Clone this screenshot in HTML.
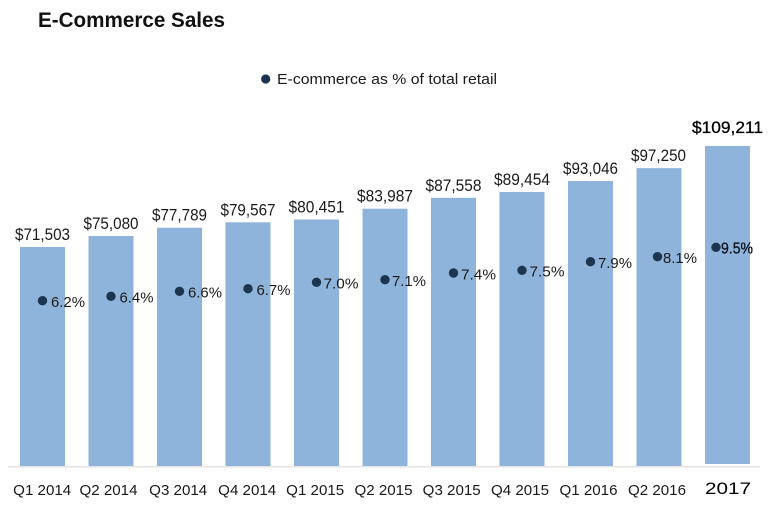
<!DOCTYPE html>
<html>
<head>
<meta charset="utf-8">
<style>
html,body{margin:0;padding:0;background:#fff;}
svg{display:block;}
text{font-family:"Liberation Sans",Arial,sans-serif;}
</style>
</head>
<body>
<svg width="780" height="516" viewBox="0 0 780 516" xmlns="http://www.w3.org/2000/svg">
<rect width="780" height="516" fill="#fff"/>
<text x="38" y="27" font-size="21" font-weight="bold" fill="#111" textLength="187" lengthAdjust="spacingAndGlyphs">E-Commerce Sales</text>
<circle cx="265.7" cy="79" r="4.6" fill="#1c3550"/>
<text x="277" y="84" font-size="14.5" fill="#1a1a1a" textLength="220" lengthAdjust="spacingAndGlyphs">E-commerce as % of total retail</text>

<line x1="8" y1="466.8" x2="760" y2="466.8" stroke="#e4e4e4" stroke-width="1.5"/>

<g fill="#8fb4db">
<rect x="20" y="247" width="45" height="219"/>
<rect x="88.5" y="236" width="45" height="230"/>
<rect x="157" y="227.7" width="45" height="238.3"/>
<rect x="225.5" y="222.3" width="45" height="243.7"/>
<rect x="294" y="219.5" width="45" height="246.5"/>
<rect x="362.5" y="208.7" width="45" height="257.3"/>
<rect x="431" y="197.8" width="45" height="268.2"/>
<rect x="499.5" y="192" width="45" height="274"/>
<rect x="568" y="181" width="45" height="285"/>
<rect x="636.5" y="168.1" width="45" height="297.9"/>
<rect x="705" y="146" width="45" height="318"/>
</g>

<g font-size="16.5" fill="#1a1a1a" text-anchor="middle">
<text x="42.5" y="240" textLength="55" lengthAdjust="spacingAndGlyphs">$71,503</text>
<text x="111" y="229" textLength="55" lengthAdjust="spacingAndGlyphs">$75,080</text>
<text x="179.5" y="220.7" textLength="55" lengthAdjust="spacingAndGlyphs">$77,789</text>
<text x="248" y="215.3" textLength="55" lengthAdjust="spacingAndGlyphs">$79,567</text>
<text x="316.5" y="212.4" textLength="56" lengthAdjust="spacingAndGlyphs">$80,451</text>
<text x="385" y="201.7" textLength="56" lengthAdjust="spacingAndGlyphs">$83,987</text>
<text x="453.5" y="190.8" textLength="56" lengthAdjust="spacingAndGlyphs">$87,558</text>
<text x="522" y="185" textLength="56" lengthAdjust="spacingAndGlyphs">$89,454</text>
<text x="590.5" y="174" textLength="55" lengthAdjust="spacingAndGlyphs">$93,046</text>
<text x="658.5" y="161" textLength="55" lengthAdjust="spacingAndGlyphs">$97,250</text>
<text x="727.5" y="133" font-size="17" fill="#000" stroke="#000" stroke-width="0.3" textLength="71" lengthAdjust="spacingAndGlyphs">$109,211</text>
</g>

<g fill="#1c3550">
<circle cx="42.5" cy="300.7" r="4.7"/>
<circle cx="111" cy="296.3" r="4.7"/>
<circle cx="179.5" cy="291.3" r="4.7"/>
<circle cx="248" cy="288.7" r="4.7"/>
<circle cx="316.5" cy="282.3" r="4.7"/>
<circle cx="385" cy="279.7" r="4.7"/>
<circle cx="453.5" cy="273" r="4.7"/>
<circle cx="522" cy="270.3" r="4.7"/>
<circle cx="590.5" cy="261.7" r="4.7"/>
<circle cx="657.5" cy="256.7" r="4.7"/>
<circle cx="716" cy="247.3" r="4.7"/>
</g>

<g font-size="15" fill="#1a1a1a">
<text x="51" y="307" textLength="34" lengthAdjust="spacingAndGlyphs">6.2%</text>
<text x="119.5" y="302.5" textLength="34" lengthAdjust="spacingAndGlyphs">6.4%</text>
<text x="188" y="297.5" textLength="34" lengthAdjust="spacingAndGlyphs">6.6%</text>
<text x="256.5" y="295" textLength="34" lengthAdjust="spacingAndGlyphs">6.7%</text>
<text x="323.5" y="288.5" textLength="35" lengthAdjust="spacingAndGlyphs">7.0%</text>
<text x="392" y="286" textLength="34" lengthAdjust="spacingAndGlyphs">7.1%</text>
<text x="461" y="279.3" textLength="35" lengthAdjust="spacingAndGlyphs">7.4%</text>
<text x="529.5" y="276.5" textLength="35" lengthAdjust="spacingAndGlyphs">7.5%</text>
<text x="598" y="268" textLength="34" lengthAdjust="spacingAndGlyphs">7.9%</text>
<text x="663" y="263" textLength="34" lengthAdjust="spacingAndGlyphs">8.1%</text>
<text x="721" y="253.5" font-size="16" fill="#0a1420" stroke="#0a1420" stroke-width="0.35" textLength="32" lengthAdjust="spacingAndGlyphs">9.5%</text>
</g>

<g font-size="15" fill="#1a1a1a" text-anchor="middle">
<text x="42.2" y="495" textLength="58" lengthAdjust="spacingAndGlyphs">Q1 2014</text>
<text x="108.5" y="495" textLength="58" lengthAdjust="spacingAndGlyphs">Q2 2014</text>
<text x="178.2" y="495" textLength="58" lengthAdjust="spacingAndGlyphs">Q3 2014</text>
<text x="247.2" y="495" textLength="58" lengthAdjust="spacingAndGlyphs">Q4 2014</text>
<text x="315.2" y="495" textLength="58" lengthAdjust="spacingAndGlyphs">Q1 2015</text>
<text x="383.5" y="495" textLength="58" lengthAdjust="spacingAndGlyphs">Q2 2015</text>
<text x="451.7" y="495" textLength="58" lengthAdjust="spacingAndGlyphs">Q3 2015</text>
<text x="520" y="495" textLength="58" lengthAdjust="spacingAndGlyphs">Q4 2015</text>
<text x="588.5" y="495" textLength="58" lengthAdjust="spacingAndGlyphs">Q1 2016</text>
<text x="657" y="495" textLength="58" lengthAdjust="spacingAndGlyphs">Q2 2016</text>
<text x="728" y="494" font-size="17" fill="#000" textLength="46" lengthAdjust="spacingAndGlyphs">2017</text>
</g>
</svg>
</body>
</html>
